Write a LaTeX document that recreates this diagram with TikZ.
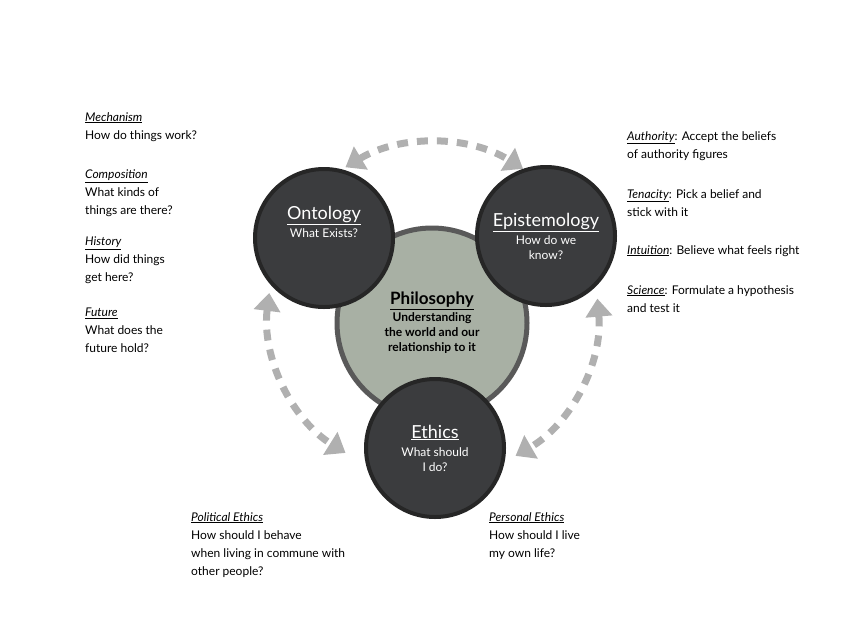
\documentclass[tikz,border=0pt]{standalone}
\usepackage{fontspec}
\setmainfont{Lato}
\usetikzlibrary{arrows.meta}
\definecolor{darkdisc}{HTML}{3B3C3E}
\definecolor{discline}{HTML}{262626}
\definecolor{sage}{HTML}{A8B0A4}
\definecolor{arcgrey}{HTML}{B0B0B0}
\tikzset{
  topic/.style={circle,draw=discline,line width=4pt,fill=darkdisc,minimum size=138pt,
    text=white,align=center,inner sep=0pt,font=\fontsize{12}{15}\selectfont},
  core/.style={circle,draw=black!65,line width=5pt,fill=sage,minimum size=190pt,
    align=center,inner sep=0pt,font=\bfseries\fontsize{12}{15}\selectfont},
  loop/.style={arcgrey,line width=7pt,dash pattern=on 11pt off 9pt,
    {Triangle[width=26pt,length=18pt]}-{Triangle[width=26pt,length=18pt]}},
  notes/.style={anchor=north west,align=left,inner sep=0pt,
    font=\fontsize{12}{18}\selectfont}
}
\begin{document}
\begin{tikzpicture}[x=1pt,y=-1pt]
      \useasboundingbox (0,0) rectangle (867,630);
      \coordinate (mid) at (433,313);
      \node[core] (phil) at (432,323) {{\fontsize{17}{20}\selectfont\underline{Philosophy}}\\[2pt]
        Understanding\\the world and our\\relationship to it};
      \node[topic] (onto) at (324,238) {{\fontsize{18}{20}\selectfont\underline{Ontology}}\\[3pt] What Exists?\\[18pt]};
      \node[topic] (epis) at (546,236) {{\fontsize{18}{20}\selectfont\underline{Epistemology}}\\[3pt] How do we\\know?};
      \node[topic] (eth) at (435,448) {{\fontsize{18}{20}\selectfont\underline{Ethics}}\\[3pt] What should\\I do?};
      \draw[loop] ([shift={(mid)}]-121:170) arc[start angle=-121,end angle=-58,radius=170];
      \draw[loop] ([shift={(mid)}]-173:165) arc[start angle=-173,end angle=-238,radius=165];
      \draw[loop] ([shift={(mid)}]-5:165) arc[start angle=-5,end angle=60,radius=165];
      \node[notes] (mech) at (85,112) {\textit{\underline{Mechanism}}\\How do things work?};
      \node[notes] (comp) at (85,170) {\textit{\underline{Composition}}\\What kinds of\\things are there?};
      \node[notes] (hist) at (85,237) {\textit{\underline{History}}\\How did things\\get here?};
      \node[notes] (futu) at (85,308) {\textit{\underline{Future}}\\What does the\\future hold?};
      \node[notes] (auth) at (627,131) {\textit{\underline{Authority}}: Accept the beliefs\\of authority figures};
      \node[notes] (tena) at (627,189) {\textit{\underline{Tenacity}}: Pick a belief and\\stick with it};
      \node[notes] (intu) at (627,245) {\textit{\underline{Intuition}}: Believe what feels right};
      \node[notes] (scie) at (627,285) {\textit{\underline{Science}}: Formulate a hypothesis\\and test it};
      \node[notes] (poli) at (191,512) {\textit{\underline{Political Ethics}}\\How should I behave\\when living in commune with\\other people?};
      \node[notes] (pers) at (489,512) {\textit{\underline{Personal Ethics}}\\How should I live\\my own life?};
\end{tikzpicture}
\end{document}
